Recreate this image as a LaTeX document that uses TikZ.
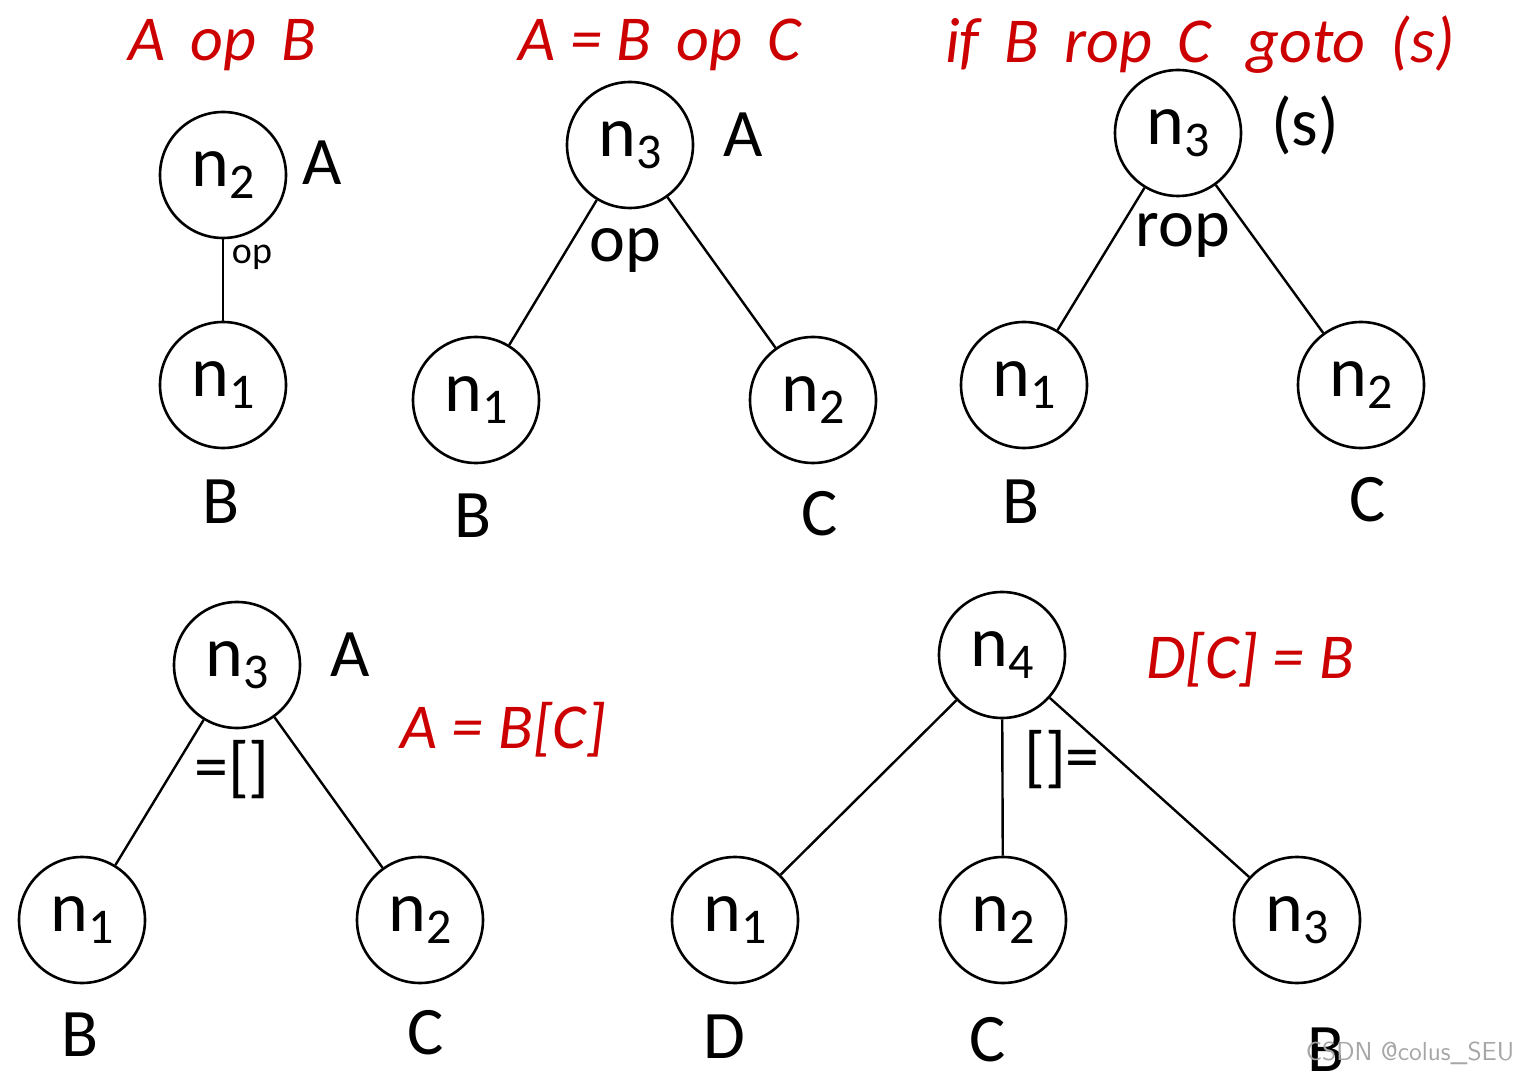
\documentclass[tikz,border=0pt]{standalone}
\usepackage{fontspec}
\setmainfont{Carlito}
\newcommand{\nsub}[1]{n\raisebox{-0.35ex}{\fontsize{25}{27}\selectfont #1}}
\begin{document}
\begin{tikzpicture}[x=0.5pt,y=-0.5pt,
  nd/.style={circle,draw,line width=1.3pt,minimum size=63pt,inner sep=0pt,font=\fontsize{36}{40}\selectfont},
  lb/.style={font=\fontsize{34}{38}\selectfont},
  sm/.style={font=\fontsize{19}{22}\selectfont},
  rd/.style={text=red!80!black,font=\fontsize{32}{36}\selectfont\itshape},
  ed/.style={line width=1.2pt}]
\useasboundingbox (0,0) rectangle (1538,1080);
% tree 1
\node[nd] (a2) at (223,175) {\nsub{2}};
\node[nd] (a1) at (223,385) {\nsub{1}};
\draw[line width=0.6pt] (a2) -- (a1);
\node[sm] (aop) at (252,257) {op};
\node[lb] (aA) at (322,163) {A};
\node[lb] (aB) at (221,502) {B};
\node[rd] (at) at (222,45) {A\, op\, B};
% tree 2
\node[nd] (b3) at (630,145) {\nsub{3}};
\node[nd] (b1) at (476,400) {\nsub{1}};
\node[nd] (b2) at (813,400) {\nsub{2}};
\draw[ed] (b3) -- (b1); \draw[ed] (b3) -- (b2);
\node[lb] (bop) at (625,250) {op};
\node[lb] (bA) at (743,135) {A};
\node[lb] (bB) at (473,516) {B};
\node[lb] (bC) at (820,514) {C};
\node[rd] (bt) at (660,45) {A = B\, op\, C};
% tree 3
\node[nd] (c3) at (1178,133) {\nsub{3}};
\node[nd] (c1) at (1024,385) {\nsub{1}};
\node[nd] (c2) at (1361,385) {\nsub{2}};
\draw[ed] (c3) -- (c1); \draw[ed] (c3) -- (c2);
\node[lb] (cop) at (1183,235) {rop};
\node[lb] (cs) at (1305,125) {(s)};
\node[lb] (cB) at (1021,502) {B};
\node[lb] (cC) at (1368,500) {C};
\node[rd] (ct) at (1200,45) {if\, B\, rop\, C\,\, goto\, (s)};
% tree 4
\node[nd] (d3) at (237,665) {\nsub{3}};
\node[nd] (d1) at (82,920) {\nsub{1}};
\node[nd] (d2) at (420,920) {\nsub{2}};
\draw[ed] (d3) -- (d1); \draw[ed] (d3) -- (d2);
\node[lb] (dop) at (232,770) {=[]};
\node[lb] (dA) at (350,655) {A};
\node[lb] (dB) at (80,1035) {B};
\node[lb] (dC) at (426,1033) {C};
\node[rd] (dt) at (503,730) {A = B[C]};
% tree 5
\node[nd] (e4) at (1002,655) {\nsub{4}};
\node[nd] (e1) at (735,920) {\nsub{1}};
\node[nd] (e2) at (1003,920) {\nsub{2}};
\node[nd] (e3) at (1297,920) {\nsub{3}};
\draw[ed] (e4) -- (e1); \draw[ed] (e4) -- (e2); \draw[ed] (e4) -- (e3);
\node[lb] (eop) at (1062,760) {[]=};
\node[lb] (eD) at (724,1037) {D};
\node[lb] (eC) at (988,1040) {C};
\node[lb] (eB) at (1326,1050) {B};
\node[text=gray!70,font=\fontsize{13}{15}\selectfont\sffamily] (wm) at (1410,1053) {CSDN @colus\_SEU};
\node[rd] (et) at (1250,660) {D[C] = B};
\end{tikzpicture}
\end{document}
